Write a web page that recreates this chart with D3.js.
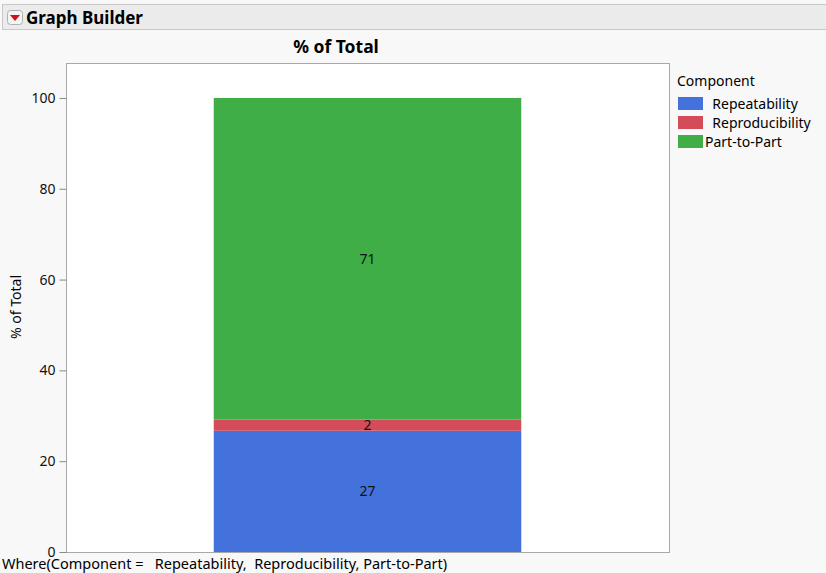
<!DOCTYPE html>
<html>
<head>
<meta charset="utf-8">
<script src="https://cdn.jsdelivr.net/npm/d3@7"></script>
<style>
  body { margin: 0; background: #f8f8f8; font-family: "Noto Sans", "DejaVu Sans", sans-serif; }
  svg text { font-family: "Noto Sans", "DejaVu Sans", sans-serif; }
</style>
</head>
<body>
<div class="canvas"></div>
<script>
const components = ['Repeatability', 'Reproducibility', 'Part-to-Part'];
const legendLabels = ['  Repeatability', '  Reproducibility', 'Part-to-Part'];
const percents = [26.7, 2.5, 70.8];
const barLabels = ['27', '2', '71'];
const colors = ['#4372dc', '#d44c5a', '#3fae47'];
const yTicks = [0, 20, 40, 60, 80, 100];

const width = 826, height = 573;
const margin = { top: 63, right: 157, bottom: 21, left: 66 };
const graphWidth = width - margin.left - margin.right;
const graphHeight = height - margin.top - margin.bottom;

const svg = d3.select('.canvas')
  .append('svg')
  .attr('width', width)
  .attr('height', height);

// header strip
svg.append('rect')
  .attr('x', 2.5).attr('y', 4.5)
  .attr('width', width - 2).attr('height', 25)
  .attr('fill', '#ebebeb')
  .attr('stroke', '#c8c8c8');
svg.append('rect')
  .attr('x', 7.5).attr('y', 10.5)
  .attr('width', 15).attr('height', 14)
  .attr('rx', 3)
  .attr('fill', '#f4f4f4')
  .attr('stroke', '#b0b0b0');
svg.append('path')
  .attr('d', 'M10,15 L20,15 L15,21 Z')
  .attr('fill', '#d0101c');
svg.append('text')
  .attr('x', 26).attr('y', 24)
  .attr('font-size', '17px')
  .attr('font-weight', 'bold')
  .text('Graph Builder');

svg.append('text')
  .attr('x', 336).attr('y', 53)
  .attr('text-anchor', 'middle')
  .attr('font-size', '17.5px')
  .attr('font-weight', 'bold')
  .text('% of Total');

const graph = svg.append('g')
  .attr('transform', `translate(${margin.left},${margin.top})`);

graph.append('rect')
  .attr('width', graphWidth)
  .attr('height', graphHeight)
  .attr('fill', '#fff');

const y = d3.scaleLinear()
  .domain([0, 107.7])
  .range([graphHeight, 0]);
const x = d3.scaleBand()
  .domain(['all'])
  .range([0, graphWidth])
  .paddingInner(0.49)
  .paddingOuter(0.245);

const stacked = [];
let acc = 0;
percents.forEach((p, i) => {
  stacked.push({ name: components[i], y0: acc, y1: acc + p, label: barLabels[i], color: colors[i] });
  acc += p;
});

graph.selectAll('rect.seg')
  .data(stacked)
  .enter()
  .append('rect')
  .attr('class', 'seg')
  .attr('x', x('all'))
  .attr('width', x.bandwidth())
  .attr('y', d => y(d.y1))
  .attr('height', d => y(d.y0) - y(d.y1))
  .attr('fill', d => d.color);

graph.selectAll('text.seg')
  .data(stacked)
  .enter()
  .append('text')
  .attr('class', 'seg')
  .attr('x', x('all') + x.bandwidth() / 2)
  .attr('y', d => y((d.y0 + d.y1) / 2) + 5)
  .attr('text-anchor', 'middle')
  .attr('font-size', '14px')
  .attr('fill', '#111')
  .text(d => d.label);

// frame
graph.append('rect')
  .attr('x', 0.5).attr('y', 0.5)
  .attr('width', graphWidth).attr('height', graphHeight)
  .attr('fill', 'none')
  .attr('stroke', '#a8a8a8');

const yAxis = d3.axisLeft(y)
  .tickValues(yTicks)
  .tickSize(7)
  .tickPadding(4);
const yAxisGroup = graph.append('g')
  .attr('transform', 'translate(0.5,0)')
  .call(yAxis);
yAxisGroup.select('.domain').remove();
yAxisGroup.selectAll('line').attr('stroke', '#888');
yAxisGroup.selectAll('text')
  .attr('font-size', '14px')
  .attr('fill', '#111');

svg.append('text')
  .attr('transform', 'translate(21,307) rotate(-90)')
  .attr('text-anchor', 'middle')
  .attr('font-size', '14px')
  .text('% of Total');

// legend
const legend = svg.append('g')
  .attr('transform', 'translate(677,0)');
legend.append('text')
  .attr('x', 0).attr('y', 86)
  .attr('font-size', '14px')
  .text('Component');
const items = legend.selectAll('g.item')
  .data(components)
  .enter()
  .append('g')
  .attr('class', 'item')
  .attr('transform', (d, i) => `translate(0,${97 + i * 19})`);
items.append('rect')
  .attr('x', 1).attr('width', 25).attr('height', 13)
  .attr('fill', (d, i) => colors[i]);
items.append('text')
  .attr('x', 28).attr('y', 12)
  .attr('font-size', '14px')
  .style('white-space', 'pre')
  .text((d, i) => legendLabels[i]);

svg.append('text')
  .attr('x', 2).attr('y', 569)
  .attr('font-size', '14.5px')
  .style('white-space', 'pre')
  .text('Where(Component =   Repeatability,  Reproducibility, Part-to-Part)');
</script>
</body>
</html>
